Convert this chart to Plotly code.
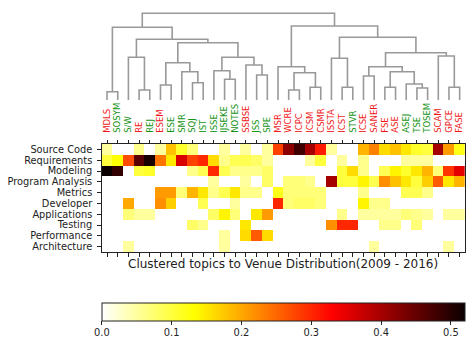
import plotly.graph_objects as go

# ---------------- data ----------------
venues = ['MDLS', 'SOSYM', 'S/W', 'RE', 'REJ', 'ESEM', 'ESE', 'SMR', 'SQJ', 'IST',
          'ISSE', 'IJSEKE', 'NOTES', 'SSBSE', 'JSS', 'SPE', 'MSR', 'WCRE', 'ICPC', 'ICSM',
          'CSMR', 'ISSTA', 'ICST', 'STVR', 'ICSE', 'SANER', 'FSE', 'ASE', 'ASEJ', 'TSE',
          'TOSEM', 'SCAM', 'GPCE', 'FASE']
venue_kind = ['C', 'J', 'J', 'C', 'J', 'C', 'J', 'J', 'J', 'J',
              'J', 'J', 'J', 'C', 'J', 'J', 'C', 'C', 'C', 'C',
              'C', 'C', 'C', 'J', 'C', 'C', 'C', 'C', 'J', 'J',
              'J', 'C', 'C', 'C']

topics = ['Source Code', 'Requirements', 'Modeling', 'Program Analysis', 'Metrics',
          'Developer', 'Applications', 'Testing', 'Performance', 'Architecture']

source_code = [0.05, 0, 0, 0.06, 0, 0.05, 0.18, 0.11, 0.07, 0, 0, 0.05, 0, 0.05, 0, 0.05, 0.28,
               0.42, 0.48, 0.40, 0.31, 0.05, 0, 0, 0.19, 0.23, 0.16, 0.18, 0.15, 0.11, 0.10,
               0.40, 0.21, 0.12]
requirements = [0.10, 0.13, 0.27, 0.46, 0.51, 0.24, 0.15, 0.36, 0.28, 0.30, 0.16, 0.06, 0.09,
                0.09, 0.08, 0.05, 0, 0, 0, 0.05, 0.10, 0, 0.05, 0, 0.06, 0, 0, 0, 0.05, 0.05,
                0.05, 0, 0, 0]
modeling = [0.52, 0.49, 0, 0.10, 0.11, 0, 0, 0, 0.06, 0.09, 0.30, 0.09, 0.06, 0.06, 0.06, 0.08,
            0, 0, 0, 0, 0, 0, 0.10, 0.16, 0.06, 0, 0.09, 0.14, 0.11, 0.15, 0.19, 0.07, 0.29, 0.35]
program_analysis = [0, 0, 0, 0, 0, 0, 0, 0, 0, 0, 0.05, 0, 0, 0.05, 0, 0.08, 0, 0.07, 0.07, 0.06,
                    0, 0.40, 0.10, 0.10, 0.14, 0.09, 0.22, 0.18, 0.15, 0.10, 0.17, 0.26, 0.15, 0.19]
metrics = [0, 0, 0, 0, 0, 0.21, 0.21, 0.07, 0.19, 0.15, 0.06, 0.09, 0.15, 0.06, 0.06, 0, 0.12,
           0.07, 0.07, 0.07, 0.07, 0, 0, 0, 0.06, 0, 0, 0, 0.09, 0.09, 0.06, 0, 0, 0]
developer = [0, 0, 0.20, 0, 0, 0.22, 0.17, 0, 0, 0.09, 0, 0, 0.05, 0, 0, 0, 0.30, 0.07, 0.08,
             0.08, 0.07, 0, 0, 0, 0.14, 0.06, 0.06, 0, 0, 0, 0, 0, 0, 0]
applications = [0, 0, 0.07, 0.05, 0.05, 0, 0, 0, 0, 0, 0.08, 0.14, 0.07, 0, 0.15, 0.21, 0, 0,
                0, 0, 0, 0, 0.06, 0, 0.05, 0.05, 0.05, 0.05, 0.07, 0.06, 0.05, 0, 0.05, 0.05]
testing = [0, 0, 0, 0, 0, 0, 0, 0, 0.08, 0.06, 0, 0, 0, 0.15, 0, 0, 0, 0, 0, 0, 0, 0.22, 0.30,
           0.30, 0, 0, 0.06, 0.06, 0, 0.07, 0, 0, 0, 0]
performance = [0, 0, 0, 0, 0, 0, 0, 0, 0, 0, 0, 0.05, 0, 0.16, 0.26, 0.16, 0, 0, 0, 0, 0, 0, 0,
               0, 0, 0, 0, 0, 0, 0, 0, 0, 0, 0]
architecture = [0, 0, 0.05, 0, 0, 0, 0, 0, 0, 0, 0, 0.05, 0, 0, 0, 0, 0, 0, 0, 0, 0, 0, 0, 0,
                0, 0.05, 0, 0, 0, 0, 0, 0, 0.05, 0]

# dendrogram linkage (scipy style: node ids >= 34 are earlier merges)
link_left = [0, 3, 17, 29, 19, 22, 26, 32, 5, 28, 8, 11, 24, 14, 36, 7, 40,
             10, 16, 46, 13, 42, 21, 2, 51, 31, 53, 55, 57, 56, 34, 52, 64]
link_right = [1, 4, 18, 30, 20, 23, 27, 33, 6, 37, 9, 12, 25, 15, 38, 44, 43,
              45, 48, 50, 47, 49, 39, 35, 54, 41, 59, 58, 61, 60, 62, 63, 65]
link_height = [8.3, 10, 10, 12, 12.7, 12.7, 12.7, 12.7, 15, 16, 17.3, 20.7, 24, 25, 27.3, 28.3,
               28.3, 29.3, 33.3, 33.3, 35, 37.3, 41.7, 42.7, 42.7, 44, 47.3, 57.3, 60.7, 62.7,
               72.7, 74, 86.7]

cb_ticks = [0.0, 0.1, 0.2, 0.3, 0.4, 0.5]
title_text = 'Clustered topics to Venue Distribution(2009 - 2016)'

# ---------------- build ----------------
W, H = 474, 345
FONT = 'DejaVu Sans'
n = len(venues)

z = [source_code, requirements, modeling, program_analysis, metrics,
     developer, applications, testing, performance, architecture]

kind_color = {'C': '#f01818', 'J': '#149414'}
ticktext = ['<span style="color:%s">%s</span>' % (kind_color[k], v)
            for v, k in zip(venues, venue_kind)]

# matplotlib hot_r
hot_r = [[0.0, 'rgb(255,255,255)'], [0.253968, 'rgb(255,255,0)'],
         [0.634921, 'rgb(255,0,0)'], [1.0, 'rgb(11,0,0)']]

def px_x(p):
    return p / W

def px_y(p):
    return 1 - p / H

hm_left, hm_right = 101.7, 465.0
hm_top, hm_bottom = 144.0, 252.0

fig = go.Figure()
fig.add_trace(go.Heatmap(
    z=z, x=list(range(n)), y=list(range(len(topics))),
    colorscale=hot_r, zmin=0, zmax=0.52,
    xaxis='x', yaxis='y',
    colorbar=dict(orientation='h', x=px_x((hm_left + hm_right) / 2), xanchor='center',
                  y=px_y(302.5), yanchor='top', len=(hm_right - hm_left) / W,
                  lenmode='fraction', thickness=18, xpad=0, ypad=0,
                  outlinewidth=1, outlinecolor='#222',
                  tickvals=cb_ticks, ticktext=['%.1f' % t for t in cb_ticks],
                  ticks='outside', ticklen=3.5, tickcolor='#222',
                  tickfont=dict(family=FONT, size=9.9, color='#222')),
    showscale=True, hoverinfo='skip'))

# dendrogram segments
pos = {i: (float(i), 0.0) for i in range(n)}
xs, ys = [], []
for k, (a, b, h) in enumerate(zip(link_left, link_right, link_height)):
    xa, ha = pos[a]
    xb, hb = pos[b]
    xs += [xa, xa, xb, xb, None]
    ys += [ha, h, h, hb, None]
    pos[n + k] = ((xa + xb) / 2, h)

fig.add_trace(go.Scatter(x=xs, y=ys, mode='lines', xaxis='x2', yaxis='y2',
                         line=dict(color='#999999', width=1.6), hoverinfo='skip',
                         showlegend=False))

fig.update_layout(
    width=W, height=H, margin=dict(l=0, r=0, t=0, b=0),
    paper_bgcolor='white', plot_bgcolor='white',
    font=dict(family=FONT, color='#222'),
    showlegend=False,
    xaxis=dict(domain=[px_x(hm_left), px_x(hm_right)], range=[-0.5, n - 0.5],
               side='top', tickvals=list(range(n)), ticktext=ticktext, tickangle=-90,
               ticks='outside', ticklen=3.5, tickcolor='#222', showline=True,
               linecolor='#222', linewidth=1, mirror='ticks', showgrid=False,
               zeroline=False, tickfont=dict(family=FONT, size=8.5),
               ticklabelstandoff=5, anchor='y', fixedrange=True),
    yaxis=dict(domain=[px_y(hm_bottom), px_y(hm_top)], range=[len(topics) - 0.5, -0.5],
               tickvals=list(range(len(topics))), ticktext=topics, ticks='outside',
               ticklen=3.5, tickcolor='#222', showline=True, linecolor='#222',
               linewidth=1, mirror=True, showgrid=False, zeroline=False,
               tickfont=dict(family=FONT, size=9.8, color='#222'), anchor='x',
               ticklabelstandoff=3, fixedrange=True),
    xaxis2=dict(domain=[px_x(hm_left), px_x(hm_right)], range=[-0.5, n - 0.5],
                visible=False, anchor='y2', fixedrange=True),
    yaxis2=dict(domain=[px_y(100), px_y(10)], range=[0, 90], visible=False,
                anchor='x2', fixedrange=True),
    annotations=[dict(text=title_text, x=px_x(282.5), y=px_y(264), xref='paper',
                      yref='paper', showarrow=False, xanchor='center', yanchor='middle',
                      font=dict(family=FONT, size=12, color='#222'))],
)

fig.write_html('out.html')
